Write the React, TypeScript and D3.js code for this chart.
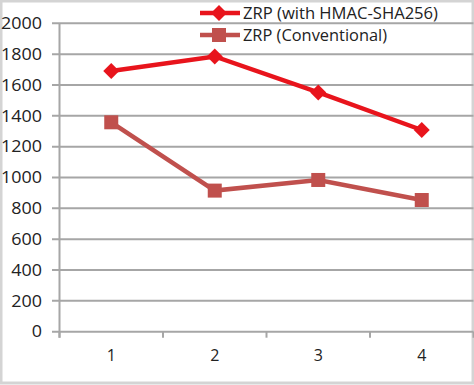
import React from "react";
import * as d3 from "d3";

const categories = ["1", "2", "3", "4"];
const seriesNames = ["ZRP (with HMAC-SHA256)", "ZRP (Conventional)"];
const hmacValues = [1690, 1785, 1552, 1308];
const conventionalValues = [1358, 915, 984, 854];
const yTicks = [0, 200, 400, 600, 800, 1000, 1200, 1400, 1600, 1800, 2000];

const W = 474;
const H = 385;

export default function App() {
  const x0 = 59.5;
  const x1 = 473.5;
  const y = d3.scaleLinear().domain([0, 2000]).range([331.7, 23.3]);
  const band = d3.scaleBand().domain(categories).range([x0, x1]).padding(0);
  const cx = (c: string) => (band(c) as number) + band.bandwidth() / 2;

  const line = d3
    .line<number>()
    .x((_, i) => cx(categories[i]))
    .y((d) => y(d));

  const red = "#e8141c";
  const brown = "#c0504d";
  const grid = "#a6a6a6";
  const font = "'Open Sans', 'Noto Sans', sans-serif";

  const diamond = (px: number, py: number, r: number) =>
    `M${px},${py - r}L${px + r},${py}L${px},${py + r}L${px - r},${py}Z`;

  return (
    <svg width={W} height={H} style={{ position: "absolute", left: 0, top: 0 }}>
      <rect x={0} y={0} width={W} height={H} fill="#ffffff" />
      <rect x={1} y={1} width={W - 2} height={H - 3} fill="none" stroke="#d4d4d4" strokeWidth={3} />
      {yTicks.map((t) => (
        <g key={t}>
          <line x1={52} x2={x1} y1={y(t)} y2={y(t)} stroke={grid} strokeWidth={2} />
          <text
            x={42}
            y={y(t)}
            dy="0.36em"
            textAnchor="end"
            fontFamily={font}
            fontSize={16}
            fill="#222"
            transform={`translate(42,0) scale(1.12,1) translate(-42,0)`}
          >
            {t}
          </text>
        </g>
      ))}
      <line x1={x0} x2={x0} y1={y(2000)} y2={y(0) + 6} stroke={grid} strokeWidth={2} />
      {categories.map((c, i) => (
        <line
          key={"t" + c}
          x1={(band(c) as number) + (i === 0 ? 0 : 0)}
          x2={band(c) as number}
          y1={y(0)}
          y2={y(0) + 6}
          stroke={grid}
          strokeWidth={2}
        />
      ))}
      <line x1={x1} x2={x1} y1={y(0)} y2={y(0) + 6} stroke={grid} strokeWidth={2} />
      {categories.map((c) => (
        <text
          key={"l" + c}
          x={cx(c)}
          y={y(0) + 29}
          textAnchor="middle"
          fontFamily={font}
          fontSize={16}
          fill="#222"
        >
          {c}
        </text>
      ))}

      <path d={line(conventionalValues) || ""} fill="none" stroke={brown} strokeWidth={4.5} />
      {conventionalValues.map((v, i) => (
        <rect
          key={"s" + i}
          x={cx(categories[i]) - 7}
          y={y(v) - 7}
          width={14}
          height={14}
          fill={brown}
        />
      ))}
      <path d={line(hmacValues) || ""} fill="none" stroke={red} strokeWidth={4.5} />
      {hmacValues.map((v, i) => (
        <path key={"d" + i} d={diamond(cx(categories[i]), y(v), 8)} fill={red} />
      ))}

      {/* legend */}
      <line x1={200} x2={240} y1={13} y2={13} stroke={red} strokeWidth={4.5} />
      <path d={diamond(219, 13, 8)} fill={red} />
      <text x={243} y={13} dy="0.36em" fontFamily={font} fontSize={16} fill="#222" textLength={195} lengthAdjust="spacingAndGlyphs">
        {seriesNames[0]}
      </text>
      <line x1={200} x2={240} y1={35} y2={35} stroke={brown} strokeWidth={4.5} />
      <rect x={212} y={28} width={14} height={14} fill={brown} />
      <text x={243} y={35} dy="0.36em" fontFamily={font} fontSize={16} fill="#222" textLength={144} lengthAdjust="spacingAndGlyphs">
        {seriesNames[1]}
      </text>
    </svg>
  );
}
